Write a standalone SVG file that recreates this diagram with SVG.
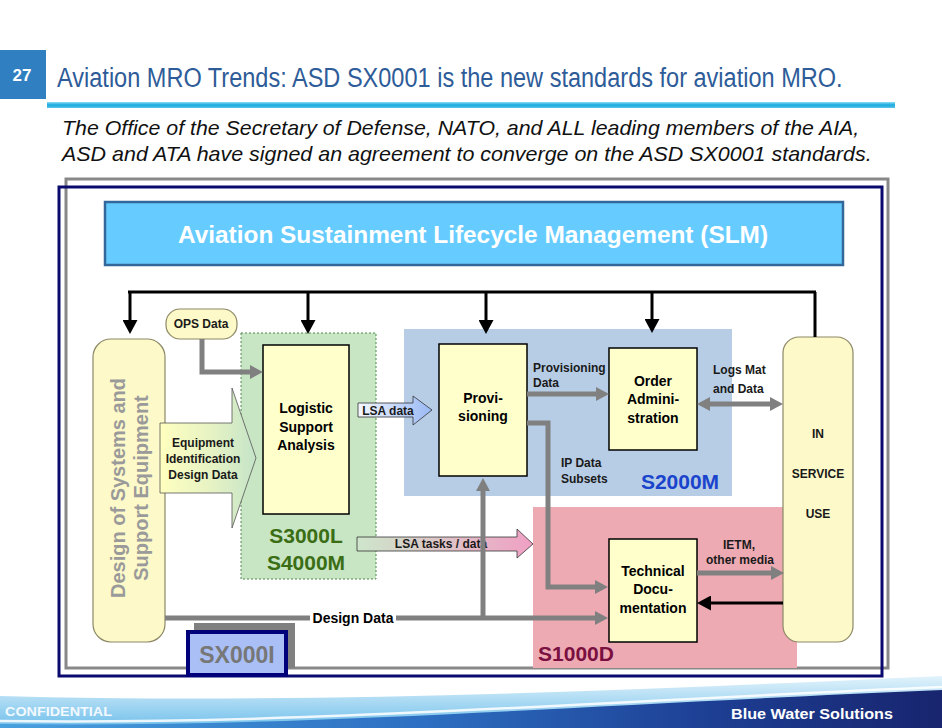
<svg xmlns="http://www.w3.org/2000/svg" width="942" height="728" viewBox="0 0 942 728">
<style>
text{font-family:"Liberation Sans",Arial,sans-serif;}
.b{font-weight:bold;}
.lbl{font-size:12px;font-weight:bold;fill:#1a1a1a;}
.box{fill:#ffffcc;stroke:#000;stroke-width:1.5;}
.rbox{fill:#fdf9c8;stroke:#8c8866;stroke-width:1.2;}
.g{fill:none;stroke:#808080;stroke-width:5;}
.k{fill:none;stroke:#000;stroke-width:3;}
.nt{font-size:14px;font-weight:bold;fill:#000;text-anchor:middle;}
.std{font-size:21px;font-weight:bold;}
</style>
<defs>
<marker id="ag" markerUnits="userSpaceOnUse" markerWidth="14" markerHeight="14" refX="0" refY="7" orient="auto-start-reverse"><path d="M0,0 L13,7 L0,14 Z" fill="#808080"/></marker>
<marker id="ak" markerUnits="userSpaceOnUse" markerWidth="15" markerHeight="15" refX="0" refY="7.5" orient="auto"><path d="M0,0 L14,7.5 L0,15 Z" fill="#000"/></marker>
<linearGradient id="bar" x1="0" y1="0" x2="0" y2="1"><stop offset="0" stop-color="#8fdcf5"/><stop offset="0.5" stop-color="#16a9dd"/><stop offset="1" stop-color="#5cc4ea"/></linearGradient>
<linearGradient id="gEq" x1="0" y1="0" x2="1" y2="0"><stop offset="0" stop-color="#ffffbf"/><stop offset="0.55" stop-color="#e6f2c4"/><stop offset="1" stop-color="#c4e4c8"/></linearGradient>
<linearGradient id="gLsa" x1="0" y1="0" x2="1" y2="0"><stop offset="0" stop-color="#f4f8ff"/><stop offset="1" stop-color="#99b8f4"/></linearGradient>
<linearGradient id="gTask" x1="0" y1="0" x2="1" y2="0"><stop offset="0" stop-color="#cde6cb"/><stop offset="1" stop-color="#f0a0c4"/></linearGradient>
<linearGradient id="fLight" x1="0" y1="0" x2="0" y2="1"><stop offset="0" stop-color="#e2f3fb"/><stop offset="1" stop-color="#70bfeb"/></linearGradient>
<linearGradient id="fDark" x1="0" y1="0" x2="1" y2="0"><stop offset="0" stop-color="#48a0de"/><stop offset="0.45" stop-color="#2d6fc2"/><stop offset="0.75" stop-color="#1d3f94"/><stop offset="1" stop-color="#18246e"/></linearGradient>
</defs>

<!-- header -->
<g id="header">
<rect x="0" y="50" width="46" height="49" fill="#2f7fc1"/>
<text x="22" y="81" class="b" font-size="17" fill="#fff" text-anchor="middle">27</text>
<text transform="translate(57,87) scale(0.8,1)" x="0" y="0" font-size="28" fill="#2e5c99" textLength="982" lengthAdjust="spacingAndGlyphs">Aviation MRO Trends: ASD SX0001 is the new standards for aviation MRO.</text>
<rect x="47" y="102" width="848" height="6" fill="url(#bar)"/>
<text transform="translate(62,135) scale(0.88,1)" font-size="20" font-style="italic" fill="#111" textLength="906" lengthAdjust="spacingAndGlyphs">The Office of the Secretary of Defense, NATO, and ALL leading members of the AIA,</text>
<text transform="translate(62,161) scale(0.88,1)" font-size="20" font-style="italic" fill="#111" textLength="920" lengthAdjust="spacingAndGlyphs">ASD and ATA have signed an agreement to converge on the ASD SX0001 standards.</text>
</g>

<!-- frames -->
<g id="frames">
<rect x="66" y="179" width="822" height="489" fill="#fff" stroke="#888" stroke-width="3"/>
<rect x="59" y="187" width="823" height="489" fill="none" stroke="#0a0a6e" stroke-width="3"/>
</g>

<g id="slm">
<rect x="105" y="202" width="738" height="63" fill="#66ccff" stroke="#336699" stroke-width="2.5"/>
<text x="473" y="243" class="b" font-size="24" fill="#fff" text-anchor="middle" textLength="590" lengthAdjust="spacingAndGlyphs">Aviation Sustainment Lifecycle Management (SLM)</text>
</g>

<!-- areas -->
<g id="area-s3000">
<rect x="241" y="333" width="135" height="246" fill="#c8e5c4" stroke="#4c8c4c" stroke-width="1" stroke-dasharray="2,2"/>
<text x="306" y="543" class="std" fill="#3b6e14" text-anchor="middle">S3000L</text>
<text x="306" y="570" class="std" fill="#3b6e14" text-anchor="middle">S4000M</text>
</g>
<g id="area-s2000">
<rect x="404" y="329" width="328" height="167" fill="#b7cde6"/>
<text x="680" y="489" class="std" fill="#1a44cc" text-anchor="middle">S2000M</text>
</g>
<g id="area-s1000">
<rect x="533" y="507" width="264" height="161" fill="#eeaab3"/>
<text x="576" y="661" class="std" fill="#7a1040" text-anchor="middle">S1000D</text>
</g>

<!-- nodes -->
<g id="design">
<rect x="93" y="339" width="72" height="303" rx="18" class="rbox"/>
<text transform="translate(125,488) rotate(-90)" class="b" font-size="20" fill="#9a9a9a" text-anchor="middle">Design of Systems and</text>
<text transform="translate(148,488) rotate(-90)" class="b" font-size="20" fill="#9a9a9a" text-anchor="middle">Support Equipment</text>
</g>
<g id="ops">
<rect x="166" y="309" width="71" height="30" rx="14" class="rbox"/>
<text x="201" y="328" class="lbl" text-anchor="middle">OPS Data</text>
</g>
<g id="lsa">
<rect x="263" y="345" width="86" height="169" class="box"/>
<text x="306" y="413" class="nt">Logistic</text>
<text x="306" y="432" class="nt">Support</text>
<text x="306" y="450" class="nt">Analysis</text>
</g>
<g id="provisioning">
<rect x="439" y="344" width="88" height="132" class="box"/>
<text x="483" y="403" class="nt" font-size="14.5">Provi-</text>
<text x="483" y="421" class="nt" font-size="14.5">sioning</text>
</g>
<g id="order">
<rect x="609" y="348" width="88" height="102" class="box"/>
<text x="653" y="386" class="nt">Order</text>
<text x="653" y="404" class="nt">Admini-</text>
<text x="653" y="423" class="nt">stration</text>
</g>
<g id="techdoc">
<rect x="609" y="539" width="88" height="103" class="box"/>
<text x="653" y="576" class="nt">Technical</text>
<text x="653" y="594" class="nt">Docu-</text>
<text x="653" y="613" class="nt">mentation</text>
</g>
<g id="inservice">
<rect x="783" y="337" width="70" height="305" rx="16" class="rbox"/>
<text x="818" y="438" class="lbl" font-size="12.5" text-anchor="middle">IN</text>
<text x="818" y="478" class="lbl" font-size="12.5" text-anchor="middle">SERVICE</text>
<text x="818" y="518" class="lbl" font-size="12.5" text-anchor="middle">USE</text>
</g>
<g id="sx000i">
<rect x="194" y="623" width="101" height="45" fill="#808080"/>
<rect x="188" y="632" width="98" height="43" fill="#a9bff6" stroke="#00007a" stroke-width="4"/>
<text x="237" y="663" class="b" font-size="23" fill="#777" text-anchor="middle">SX000I</text>
</g>

<!-- connectors -->
<g id="connectors">
<path class="k" d="M128,292 H816 M815,292 V337"/>
<path class="k" d="M130,292 V320" marker-end="url(#ak)"/>
<path class="k" d="M308,292 V320" marker-end="url(#ak)"/>
<path class="k" d="M486,292 V320" marker-end="url(#ak)"/>
<path class="k" d="M652,292 V319" marker-end="url(#ak)"/>
<path class="g" d="M202,339 V372 H250" marker-end="url(#ag)"/>
<polygon points="160,423 232,423 232,388 256,458 232,528 232,493 160,493" fill="url(#gEq)" stroke="#555" stroke-width="0.8"/>
<text x="203" y="447" class="lbl" text-anchor="middle">Equipment</text>
<text x="203" y="463" class="lbl" text-anchor="middle">Identification</text>
<text x="203" y="479" class="lbl" text-anchor="middle">Design Data</text>
<polygon points="358,403 413,403 413,396 432,410 413,425 413,417 358,417" fill="url(#gLsa)" stroke="#333" stroke-width="0.8"/>
<text x="388" y="415" class="lbl" text-anchor="middle">LSA data</text>
<polygon points="357,537 517,537 517,529 533,544 517,558 517,551 357,551" fill="url(#gTask)" stroke="#333" stroke-width="0.8"/>
<text x="441" y="548" class="lbl" text-anchor="middle">LSA tasks / data</text>
<path class="g" d="M527,394 H596" marker-end="url(#ag)"/>
<text x="533" y="372" class="lbl">Provisioning</text>
<text x="533" y="387" class="lbl">Data</text>
<path class="g" d="M710,404 H770" marker-start="url(#ag)" marker-end="url(#ag)"/>
<text x="713" y="374" class="lbl">Logs Mat</text>
<text x="713" y="393" class="lbl">and Data</text>
<path class="g" d="M527,423 H548 V587 H595" marker-end="url(#ag)"/>
<text x="561" y="467" class="lbl">IP Data</text>
<text x="561" y="483" class="lbl">Subsets</text>
<path class="g" d="M165,618 H595" marker-end="url(#ag)"/>
<path class="g" d="M483,618 V491" marker-end="url(#ag)"/>
<rect x="310" y="609" width="86" height="18" fill="#fff"/>
<text x="353" y="623" class="b" font-size="14" fill="#000" text-anchor="middle">Design Data</text>
<path class="g" d="M697,573 H771" marker-end="url(#ag)"/>
<text x="739" y="549" class="lbl" text-anchor="middle">IETM,</text>
<text x="740" y="564" class="lbl" text-anchor="middle">other media</text>
<path class="k" d="M783,603 H711" marker-end="url(#ak)"/>
</g>

<!-- footer -->
<g id="footer">
<path d="M0,696 C300,704 600,692 942,676 L942,728 L0,728 Z" fill="url(#fLight)"/>
<path d="M0,724 C300,728 560,706 942,690 L942,728 L0,728 Z" fill="url(#fDark)"/>
<path d="M0,721 C300,725 560,703 942,687" fill="none" stroke="#ffffff" stroke-width="2.5" opacity="0.85"/>
<text x="5" y="716" class="b" font-size="12.5" fill="#f2f9ff" textLength="107" lengthAdjust="spacingAndGlyphs">CONFIDENTIAL</text>
<text x="731" y="719" class="b" font-size="15" fill="#fff" textLength="162" lengthAdjust="spacingAndGlyphs">Blue Water Solutions</text>
</g>
</svg>
